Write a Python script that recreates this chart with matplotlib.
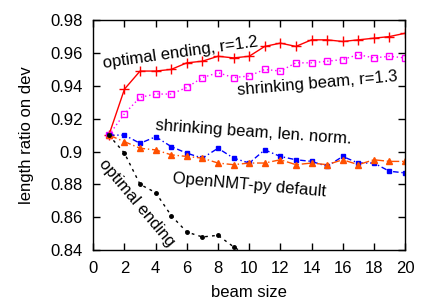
import matplotlib
matplotlib.use("Agg")
import matplotlib.pyplot as plt

plt.rcParams['font.family'] = ['Liberation Sans', 'DejaVu Sans']

beam = list(range(1, 21))
opt_r12 = [0.910, 0.938, 0.949, 0.949, 0.950, 0.954, 0.955, 0.958, 0.957, 0.958,
           0.964, 0.966, 0.964, 0.968, 0.968, 0.967, 0.968, 0.969, 0.970, 0.972]
shrink_r13 = [0.910, 0.923, 0.933, 0.935, 0.935, 0.939, 0.945, 0.948, 0.945, 0.946,
              0.950, 0.949, 0.954, 0.954, 0.955, 0.956, 0.959, 0.957, 0.958, 0.957]
shrink_norm = [0.910, 0.910, 0.905, 0.909, 0.903, 0.899, 0.896, 0.902, 0.896, 0.893,
               0.901, 0.897, 0.895, 0.894, 0.891, 0.897, 0.893, 0.893, 0.888, 0.887]
opennmt = [0.910, 0.906, 0.902, 0.901, 0.898, 0.897, 0.896, 0.893, 0.892, 0.893,
           0.893, 0.895, 0.892, 0.893, 0.892, 0.895, 0.892, 0.895, 0.894, 0.894]
beam_opt = list(range(1, 11))
opt_end = [0.910, 0.899, 0.880, 0.875, 0.861, 0.851, 0.848, 0.849, 0.842, 0.836]

fig = plt.figure(figsize=(4.36, 3.05), dpi=100)
ax = fig.add_axes([0.214, 0.180, 0.715, 0.754])

ax.plot(beam, opt_r12, color='#ff0000', lw=1.0, marker='+', ms=7, mew=1.0)
ax.plot(beam, shrink_r13, color='#ff00ff', lw=1.0, ls=(0, (1, 2)), marker='s', ms=4,
        mfc='none', mew=1.0)
ax.plot(beam, shrink_norm, color='#0000ff', lw=1.0, ls=(0, (4, 2, 1, 2)), marker='s', ms=3.5)
ax.plot(beam, opennmt, color='#ff5000', lw=1.0, ls=(0, (6, 2, 1, 2)), marker='^', ms=4.5)
ax.plot(beam_opt, opt_end, color='black', lw=1.0, ls=(0, (2, 3)), marker='o', ms=2.5)

ax.set_xlim(0, 20)
ax.set_ylim(0.84, 0.98)
ax.set_xticks(range(0, 21, 2))
ax.set_yticks([0.84, 0.86, 0.88, 0.90, 0.92, 0.94, 0.96, 0.98])
ax.set_yticklabels(['0.84', '0.86', '0.88', '0.9', '0.92', '0.94', '0.96', '0.98'])
ax.tick_params(direction='in', top=True, right=True, length=5, width=1, labelsize=12)
ax.tick_params(axis='y', pad=7.5)
ax.tick_params(axis='x', pad=7.5)
for s in ax.spines.values():
    s.set_linewidth(1.0)
ax.set_xlabel('beam size', fontsize=12, labelpad=7)
ax.set_ylabel('length ratio on dev', fontsize=12, labelpad=12)

fs = 12
ax.text(5.6, 0.9603, 'optimal ending, r=1.2', fontsize=fs, rotation=8,
        ha='center', va='center', rotation_mode='anchor')
ax.text(14.35, 0.9417, 'shrinking beam, r=1.3', fontsize=fs, rotation=5,
        ha='center', va='center', rotation_mode='anchor')
ax.text(10.3, 0.9118, 'shrinking beam, len. norm.', fontsize=fs, rotation=-4,
        ha='center', va='center', rotation_mode='anchor')
ax.text(10.0, 0.8796, 'OpenNMT-py default', fontsize=fs, rotation=-5,
        ha='center', va='center', rotation_mode='anchor')
ax.text(2.8, 0.8686, 'optimal ending', fontsize=fs, rotation=-50,
        ha='center', va='center', rotation_mode='anchor')

fig.savefig('out.png', dpi=100)
